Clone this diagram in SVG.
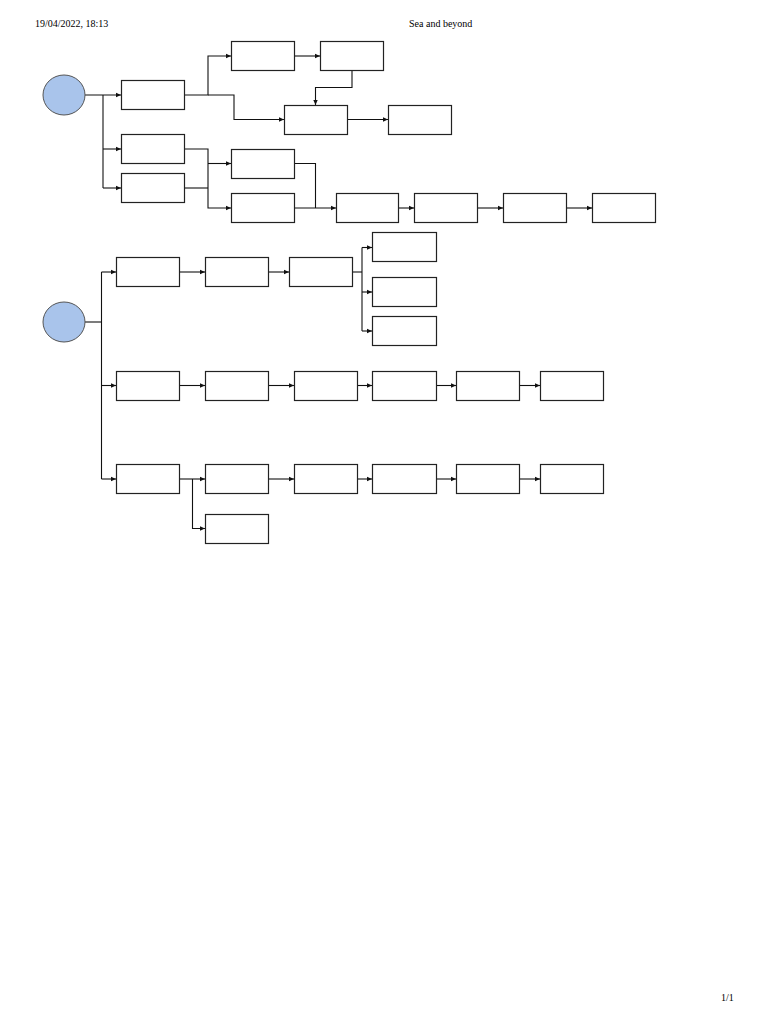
<svg xmlns="http://www.w3.org/2000/svg" width="768" height="1024" viewBox="0 0 768 1024">
<style>
.n rect{fill:#fff;stroke:#222;stroke-width:1.2}
.c ellipse{fill:#a9c4eb;stroke:#555;stroke-width:1}
#connectors path{fill:none;stroke:#111;stroke-width:1.1}
.t{font-family:"Liberation Serif",serif;font-size:10px;fill:#000}
</style>
<defs>
<marker id="ah" markerWidth="6" markerHeight="6" refX="5" refY="3" orient="auto" markerUnits="userSpaceOnUse">
<path d="M0,0.8 L5,3 L0,5.2 z" fill="#111"/>
</marker>
</defs>
<rect width="768" height="1024" fill="#fff"/>
<text class="t" x="35" y="27">19/04/2022, 18:13</text>
<text class="t" x="409" y="27">Sea and beyond</text>
<text class="t" x="721" y="1001">1/1</text>

<g id="connectors">
<!-- top -->
<path d="M85,95 H121" marker-end="url(#ah)"/>
<path d="M103,95 V188"/>
<path d="M103,149 H121" marker-end="url(#ah)"/>
<path d="M103,188 H121" marker-end="url(#ah)"/>
<path d="M184,95 H208 V56 H231" marker-end="url(#ah)"/>
<path d="M208,95 H234 V119.5 H284" marker-end="url(#ah)"/>
<path d="M294,56 H320" marker-end="url(#ah)"/>
<path d="M352,71 V87.5 H315.5 V105" marker-end="url(#ah)"/>
<path d="M347,119.5 H388" marker-end="url(#ah)"/>
<path d="M184,149 H208 V208 H231" marker-end="url(#ah)"/>
<path d="M184,188 H208"/>
<path d="M208,163.5 H231" marker-end="url(#ah)"/>
<path d="M294,163.5 H315.5 V208"/>
<path d="M294,208 H336" marker-end="url(#ah)"/>
<path d="M398,208 H414" marker-end="url(#ah)"/>
<path d="M477,208 H503" marker-end="url(#ah)"/>
<path d="M566,208 H592" marker-end="url(#ah)"/>
<!-- bottom -->
<path d="M85,322 H101.5"/>
<path d="M101.5,272 V479"/>
<path d="M101.5,272 H116" marker-end="url(#ah)"/>
<path d="M179,272 H205" marker-end="url(#ah)"/>
<path d="M268,272 H289" marker-end="url(#ah)"/>
<path d="M352,272 H362"/>
<path d="M362,247.5 V331"/>
<path d="M362,247.5 H372" marker-end="url(#ah)"/>
<path d="M362,292 H372" marker-end="url(#ah)"/>
<path d="M362,331 H372" marker-end="url(#ah)"/>
<path d="M101.5,385.5 H116" marker-end="url(#ah)"/>
<path d="M179,385.5 H205" marker-end="url(#ah)"/>
<path d="M268,385.5 H294" marker-end="url(#ah)"/>
<path d="M357,385.5 H372" marker-end="url(#ah)"/>
<path d="M436,385.5 H456" marker-end="url(#ah)"/>
<path d="M519,385.5 H540" marker-end="url(#ah)"/>
<path d="M101.5,479 H116" marker-end="url(#ah)"/>
<path d="M179,479 H205" marker-end="url(#ah)"/>
<path d="M192.5,479 V528.5 H205" marker-end="url(#ah)"/>
<path d="M268,479 H294" marker-end="url(#ah)"/>
<path d="M357,479 H372" marker-end="url(#ah)"/>
<path d="M436,479 H456" marker-end="url(#ah)"/>
<path d="M519,479 H540" marker-end="url(#ah)"/>
</g>

<g id="start1" class="c"><ellipse cx="64" cy="95" rx="21" ry="20"/></g>
<g id="a" class="n"><rect x="121.5" y="80.5" width="63" height="29"/></g>
<g id="b" class="n"><rect x="121.5" y="134.5" width="63" height="29"/></g>
<g id="c" class="n"><rect x="121.5" y="173.5" width="63" height="29"/></g>
<g id="d" class="n"><rect x="231.5" y="41.5" width="63" height="29"/></g>
<g id="e" class="n"><rect x="320.5" y="41.5" width="63" height="29"/></g>
<g id="f" class="n"><rect x="284.5" y="105.5" width="63" height="29"/></g>
<g id="g" class="n"><rect x="388.5" y="105.5" width="63" height="29"/></g>
<g id="h" class="n"><rect x="231.5" y="149.5" width="63" height="29"/></g>
<g id="i" class="n"><rect x="231.5" y="193.5" width="63" height="29"/></g>
<g id="j" class="n"><rect x="336.5" y="193.5" width="62" height="29"/></g>
<g id="k" class="n"><rect x="414.5" y="193.5" width="63" height="29"/></g>
<g id="l" class="n"><rect x="503.5" y="193.5" width="63" height="29"/></g>
<g id="m" class="n"><rect x="592.5" y="193.5" width="63" height="29"/></g>

<g id="start2" class="c"><ellipse cx="64" cy="322" rx="21" ry="20"/></g>
<g id="n1" class="n"><rect x="116.5" y="257.5" width="63" height="29"/></g>
<g id="n2" class="n"><rect x="205.5" y="257.5" width="63" height="29"/></g>
<g id="n3" class="n"><rect x="289.5" y="257.5" width="63" height="29"/></g>
<g id="q1" class="n"><rect x="372.5" y="232.5" width="64" height="29"/></g>
<g id="q2" class="n"><rect x="372.5" y="277.5" width="64" height="29"/></g>
<g id="q3" class="n"><rect x="372.5" y="316.5" width="64" height="29"/></g>
<g id="r1" class="n"><rect x="116.5" y="371.5" width="63" height="29"/></g>
<g id="r2" class="n"><rect x="205.5" y="371.5" width="63" height="29"/></g>
<g id="r3" class="n"><rect x="294.5" y="371.5" width="63" height="29"/></g>
<g id="r4" class="n"><rect x="372.5" y="371.5" width="64" height="29"/></g>
<g id="r5" class="n"><rect x="456.5" y="371.5" width="63" height="29"/></g>
<g id="r6" class="n"><rect x="540.5" y="371.5" width="63" height="29"/></g>
<g id="s1" class="n"><rect x="116.5" y="464.5" width="63" height="29"/></g>
<g id="s2" class="n"><rect x="205.5" y="464.5" width="63" height="29"/></g>
<g id="s3" class="n"><rect x="294.5" y="464.5" width="63" height="29"/></g>
<g id="s4" class="n"><rect x="372.5" y="464.5" width="64" height="29"/></g>
<g id="s5" class="n"><rect x="456.5" y="464.5" width="63" height="29"/></g>
<g id="s6" class="n"><rect x="540.5" y="464.5" width="63" height="29"/></g>
<g id="s7" class="n"><rect x="205.5" y="514.5" width="63" height="29"/></g>
</svg>
